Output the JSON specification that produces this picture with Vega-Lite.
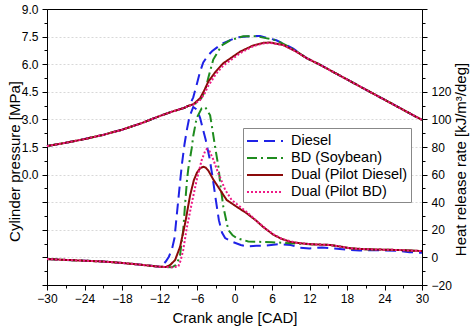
{
  "$schema": "https://vega.github.io/schema/vega-lite/v6.json",
  "width": 375,
  "height": 276,
  "autosize": {"type": "none"},
  "padding": {"left": 47, "top": 9, "right": 52, "bottom": 47},
  "config": {
    "view": {"stroke": "#000000", "strokeWidth": 1},
    "font": "Liberation Sans",
    "axis": {
      "domainColor": "#000000", "tickColor": "#000000", "labelColor": "#000000",
      "titleColor": "#000000", "labelFont": "Liberation Sans", "titleFont": "Liberation Sans",
      "labelFontSize": 12, "titleFontSize": 15, "titleFontWeight": "normal",
      "domainWidth": 1, "tickWidth": 1
    }
  },
  "datasets": {
    "pressure": [
      {"series": "Diesel", "cad": -30, "p": 1.55}, {"series": "Diesel", "cad": -27, "p": 1.73}, {"series": "Diesel", "cad": -24, "p": 1.93}, {"series": "Diesel", "cad": -21, "p": 2.16}, {"series": "Diesel", "cad": -18, "p": 2.44}, {"series": "Diesel", "cad": -15, "p": 2.78}, {"series": "Diesel", "cad": -12, "p": 3.18}, {"series": "Diesel", "cad": -10, "p": 3.42}, {"series": "Diesel", "cad": -8, "p": 3.63},
      {"series": "Diesel", "cad": -7.5, "p": 3.72}, {"series": "Diesel", "cad": -7.0, "p": 3.9}, {"series": "Diesel", "cad": -6.6, "p": 4.2}, {"series": "Diesel", "cad": -6.0, "p": 4.95}, {"series": "Diesel", "cad": -5.5, "p": 5.6}, {"series": "Diesel", "cad": -5.0, "p": 6.1}, {"series": "Diesel", "cad": -4.3, "p": 6.45}, {"series": "Diesel", "cad": -3.6, "p": 6.7}, {"series": "Diesel", "cad": -2.0, "p": 7.12}, {"series": "Diesel", "cad": 0.3, "p": 7.45}, {"series": "Diesel", "cad": 2.5, "p": 7.53}, {"series": "Diesel", "cad": 4.1, "p": 7.53}, {"series": "Diesel", "cad": 6.7, "p": 7.3}, {"series": "Diesel", "cad": 9.4, "p": 6.85}, {"series": "Diesel", "cad": 11.6, "p": 6.32},
      {"series": "Diesel", "cad": 13.5, "p": 6.0}, {"series": "Diesel", "cad": 15.3, "p": 5.67}, {"series": "Diesel", "cad": 18.5, "p": 5.08}, {"series": "Diesel", "cad": 21, "p": 4.62}, {"series": "Diesel", "cad": 24, "p": 4.07}, {"series": "Diesel", "cad": 27, "p": 3.52}, {"series": "Diesel", "cad": 30, "p": 2.97},

      {"series": "BD (Soybean)", "cad": -30, "p": 1.55}, {"series": "BD (Soybean)", "cad": -27, "p": 1.73}, {"series": "BD (Soybean)", "cad": -24, "p": 1.93}, {"series": "BD (Soybean)", "cad": -21, "p": 2.16}, {"series": "BD (Soybean)", "cad": -18, "p": 2.44}, {"series": "BD (Soybean)", "cad": -15, "p": 2.78}, {"series": "BD (Soybean)", "cad": -12, "p": 3.18}, {"series": "BD (Soybean)", "cad": -10, "p": 3.42}, {"series": "BD (Soybean)", "cad": -8, "p": 3.63},
      {"series": "BD (Soybean)", "cad": -7.5, "p": 3.72}, {"series": "BD (Soybean)", "cad": -6.8, "p": 3.8}, {"series": "BD (Soybean)", "cad": -6.0, "p": 3.9}, {"series": "BD (Soybean)", "cad": -5.3, "p": 4.15}, {"series": "BD (Soybean)", "cad": -4.7, "p": 4.55}, {"series": "BD (Soybean)", "cad": -4.2, "p": 5.25}, {"series": "BD (Soybean)", "cad": -3.4, "p": 6.25}, {"series": "BD (Soybean)", "cad": -2.05, "p": 7.02}, {"series": "BD (Soybean)", "cad": -0.7, "p": 7.3}, {"series": "BD (Soybean)", "cad": 1.4, "p": 7.52}, {"series": "BD (Soybean)", "cad": 3.5, "p": 7.52}, {"series": "BD (Soybean)", "cad": 6.7, "p": 7.3}, {"series": "BD (Soybean)", "cad": 9.4, "p": 6.82}, {"series": "BD (Soybean)", "cad": 11.6, "p": 6.32},
      {"series": "BD (Soybean)", "cad": 13.5, "p": 6.0}, {"series": "BD (Soybean)", "cad": 15.3, "p": 5.67}, {"series": "BD (Soybean)", "cad": 18.5, "p": 5.08}, {"series": "BD (Soybean)", "cad": 21, "p": 4.62}, {"series": "BD (Soybean)", "cad": 24, "p": 4.07}, {"series": "BD (Soybean)", "cad": 27, "p": 3.52}, {"series": "BD (Soybean)", "cad": 30, "p": 2.97},

      {"series": "Dual (Pilot Diesel)", "cad": -30, "p": 1.55}, {"series": "Dual (Pilot Diesel)", "cad": -27, "p": 1.73}, {"series": "Dual (Pilot Diesel)", "cad": -24, "p": 1.93}, {"series": "Dual (Pilot Diesel)", "cad": -21, "p": 2.16}, {"series": "Dual (Pilot Diesel)", "cad": -18, "p": 2.44}, {"series": "Dual (Pilot Diesel)", "cad": -15, "p": 2.78}, {"series": "Dual (Pilot Diesel)", "cad": -12, "p": 3.18}, {"series": "Dual (Pilot Diesel)", "cad": -10, "p": 3.42}, {"series": "Dual (Pilot Diesel)", "cad": -8, "p": 3.63},
      {"series": "Dual (Pilot Diesel)", "cad": -7.5, "p": 3.72}, {"series": "Dual (Pilot Diesel)", "cad": -6.6, "p": 3.82}, {"series": "Dual (Pilot Diesel)", "cad": -5.5, "p": 4.15}, {"series": "Dual (Pilot Diesel)", "cad": -4.8, "p": 4.6}, {"series": "Dual (Pilot Diesel)", "cad": -4.2, "p": 5.05}, {"series": "Dual (Pilot Diesel)", "cad": -3.0, "p": 5.6}, {"series": "Dual (Pilot Diesel)", "cad": -1.8, "p": 6.05}, {"series": "Dual (Pilot Diesel)", "cad": 0.9, "p": 6.68}, {"series": "Dual (Pilot Diesel)", "cad": 3.0, "p": 7.02}, {"series": "Dual (Pilot Diesel)", "cad": 4.6, "p": 7.16}, {"series": "Dual (Pilot Diesel)", "cad": 5.7, "p": 7.18}, {"series": "Dual (Pilot Diesel)", "cad": 7.8, "p": 7.04}, {"series": "Dual (Pilot Diesel)", "cad": 9.8, "p": 6.7}, {"series": "Dual (Pilot Diesel)", "cad": 11.6, "p": 6.32},
      {"series": "Dual (Pilot Diesel)", "cad": 13.5, "p": 6.0}, {"series": "Dual (Pilot Diesel)", "cad": 15.3, "p": 5.67}, {"series": "Dual (Pilot Diesel)", "cad": 18.5, "p": 5.08}, {"series": "Dual (Pilot Diesel)", "cad": 21, "p": 4.62}, {"series": "Dual (Pilot Diesel)", "cad": 24, "p": 4.07}, {"series": "Dual (Pilot Diesel)", "cad": 27, "p": 3.52}, {"series": "Dual (Pilot Diesel)", "cad": 30, "p": 2.97},

      {"series": "Dual (Pilot BD)", "cad": -30, "p": 1.55}, {"series": "Dual (Pilot BD)", "cad": -27, "p": 1.73}, {"series": "Dual (Pilot BD)", "cad": -24, "p": 1.93}, {"series": "Dual (Pilot BD)", "cad": -21, "p": 2.16}, {"series": "Dual (Pilot BD)", "cad": -18, "p": 2.44}, {"series": "Dual (Pilot BD)", "cad": -15, "p": 2.78}, {"series": "Dual (Pilot BD)", "cad": -12, "p": 3.18}, {"series": "Dual (Pilot BD)", "cad": -10, "p": 3.42}, {"series": "Dual (Pilot BD)", "cad": -8, "p": 3.63},
      {"series": "Dual (Pilot BD)", "cad": -7.5, "p": 3.72}, {"series": "Dual (Pilot BD)", "cad": -6.6, "p": 3.8}, {"series": "Dual (Pilot BD)", "cad": -5.5, "p": 4.05}, {"series": "Dual (Pilot BD)", "cad": -4.8, "p": 4.4}, {"series": "Dual (Pilot BD)", "cad": -4.2, "p": 4.82}, {"series": "Dual (Pilot BD)", "cad": -3.0, "p": 5.45}, {"series": "Dual (Pilot BD)", "cad": -1.8, "p": 5.92}, {"series": "Dual (Pilot BD)", "cad": 0.9, "p": 6.6}, {"series": "Dual (Pilot BD)", "cad": 3.0, "p": 6.98}, {"series": "Dual (Pilot BD)", "cad": 4.6, "p": 7.13}, {"series": "Dual (Pilot BD)", "cad": 5.7, "p": 7.16}, {"series": "Dual (Pilot BD)", "cad": 7.8, "p": 7.04}, {"series": "Dual (Pilot BD)", "cad": 9.8, "p": 6.7}, {"series": "Dual (Pilot BD)", "cad": 11.6, "p": 6.32},
      {"series": "Dual (Pilot BD)", "cad": 13.5, "p": 6.0}, {"series": "Dual (Pilot BD)", "cad": 15.3, "p": 5.67}, {"series": "Dual (Pilot BD)", "cad": 18.5, "p": 5.08}, {"series": "Dual (Pilot BD)", "cad": 21, "p": 4.62}, {"series": "Dual (Pilot BD)", "cad": 24, "p": 4.07}, {"series": "Dual (Pilot BD)", "cad": 27, "p": 3.52}, {"series": "Dual (Pilot BD)", "cad": 30, "p": 2.97}
    ],
    "hrr": [
      {"series": "Diesel", "cad": -30, "h": -1.2}, {"series": "Diesel", "cad": -27, "h": -1.8}, {"series": "Diesel", "cad": -24, "h": -2.4}, {"series": "Diesel", "cad": -21, "h": -3.0}, {"series": "Diesel", "cad": -18, "h": -4.0}, {"series": "Diesel", "cad": -15, "h": -5.3}, {"series": "Diesel", "cad": -13, "h": -6.3}, {"series": "Diesel", "cad": -12, "h": -6.7},
      {"series": "Diesel", "cad": -11.5, "h": -5.5}, {"series": "Diesel", "cad": -11, "h": -3}, {"series": "Diesel", "cad": -10.5, "h": 0.5}, {"series": "Diesel", "cad": -10, "h": 6}, {"series": "Diesel", "cad": -9.6, "h": 14}, {"series": "Diesel", "cad": -9.25, "h": 30}, {"series": "Diesel", "cad": -8.7, "h": 55}, {"series": "Diesel", "cad": -8.4, "h": 68}, {"series": "Diesel", "cad": -8.0, "h": 82}, {"series": "Diesel", "cad": -7.6, "h": 93}, {"series": "Diesel", "cad": -7.2, "h": 102}, {"series": "Diesel", "cad": -6.6, "h": 109}, {"series": "Diesel", "cad": -6.0, "h": 107}, {"series": "Diesel", "cad": -5.5, "h": 101}, {"series": "Diesel", "cad": -5.0, "h": 92}, {"series": "Diesel", "cad": -4.6, "h": 85}, {"series": "Diesel", "cad": -4.0, "h": 72}, {"series": "Diesel", "cad": -3.5, "h": 58}, {"series": "Diesel", "cad": -3.0, "h": 42}, {"series": "Diesel", "cad": -2.5, "h": 27}, {"series": "Diesel", "cad": -2.0, "h": 18}, {"series": "Diesel", "cad": -1.5, "h": 14}, {"series": "Diesel", "cad": -0.5, "h": 11.5}, {"series": "Diesel", "cad": 1.0, "h": 9}, {"series": "Diesel", "cad": 2.0, "h": 8}, {"series": "Diesel", "cad": 3.5, "h": 8.5}, {"series": "Diesel", "cad": 5, "h": 8.5}, {"series": "Diesel", "cad": 7, "h": 9.5}, {"series": "Diesel", "cad": 9, "h": 9}, {"series": "Diesel", "cad": 10.5, "h": 7}, {"series": "Diesel", "cad": 12, "h": 6.5}, {"series": "Diesel", "cad": 14, "h": 7.2}, {"series": "Diesel", "cad": 16, "h": 6.5}, {"series": "Diesel", "cad": 18, "h": 5.5}, {"series": "Diesel", "cad": 20, "h": 5}, {"series": "Diesel", "cad": 23, "h": 5.2}, {"series": "Diesel", "cad": 26, "h": 4.8}, {"series": "Diesel", "cad": 28, "h": 3.8}, {"series": "Diesel", "cad": 30, "h": 3.3},

      {"series": "BD (Soybean)", "cad": -30, "h": -1.2}, {"series": "BD (Soybean)", "cad": -27, "h": -1.8}, {"series": "BD (Soybean)", "cad": -24, "h": -2.4}, {"series": "BD (Soybean)", "cad": -21, "h": -3.0}, {"series": "BD (Soybean)", "cad": -18, "h": -4.0}, {"series": "BD (Soybean)", "cad": -15, "h": -5.3}, {"series": "BD (Soybean)", "cad": -13, "h": -6.3}, {"series": "BD (Soybean)", "cad": -12, "h": -6.7},
      {"series": "BD (Soybean)", "cad": -11, "h": -7}, {"series": "BD (Soybean)", "cad": -10, "h": -7.2}, {"series": "BD (Soybean)", "cad": -9.4, "h": -5.5}, {"series": "BD (Soybean)", "cad": -9.0, "h": -2}, {"series": "BD (Soybean)", "cad": -8.7, "h": 2}, {"series": "BD (Soybean)", "cad": -8.2, "h": 20}, {"series": "BD (Soybean)", "cad": -7.9, "h": 39}, {"series": "BD (Soybean)", "cad": -7.6, "h": 56}, {"series": "BD (Soybean)", "cad": -7.4, "h": 64}, {"series": "BD (Soybean)", "cad": -6.85, "h": 79}, {"series": "BD (Soybean)", "cad": -6.6, "h": 88}, {"series": "BD (Soybean)", "cad": -6.05, "h": 101}, {"series": "BD (Soybean)", "cad": -5.25, "h": 108}, {"series": "BD (Soybean)", "cad": -4.7, "h": 109}, {"series": "BD (Soybean)", "cad": -3.9, "h": 103}, {"series": "BD (Soybean)", "cad": -3.65, "h": 96}, {"series": "BD (Soybean)", "cad": -3.1, "h": 80}, {"series": "BD (Soybean)", "cad": -2.55, "h": 65}, {"series": "BD (Soybean)", "cad": -2.3, "h": 54}, {"series": "BD (Soybean)", "cad": -1.8, "h": 37}, {"series": "BD (Soybean)", "cad": -1.0, "h": 20}, {"series": "BD (Soybean)", "cad": -0.3, "h": 16}, {"series": "BD (Soybean)", "cad": 0.35, "h": 14}, {"series": "BD (Soybean)", "cad": 2.2, "h": 11.5}, {"series": "BD (Soybean)", "cad": 3.8, "h": 11.3}, {"series": "BD (Soybean)", "cad": 6, "h": 11}, {"series": "BD (Soybean)", "cad": 8, "h": 10.5}, {"series": "BD (Soybean)", "cad": 10, "h": 10}, {"series": "BD (Soybean)", "cad": 12.1, "h": 9.6},
      {"series": "BD (Soybean)", "cad": 13.5, "h": 9.3}, {"series": "BD (Soybean)", "cad": 15.3, "h": 9}, {"series": "BD (Soybean)", "cad": 17, "h": 7.8}, {"series": "BD (Soybean)", "cad": 18.5, "h": 6.6}, {"series": "BD (Soybean)", "cad": 20.6, "h": 6}, {"series": "BD (Soybean)", "cad": 23, "h": 5.7}, {"series": "BD (Soybean)", "cad": 26, "h": 5.4}, {"series": "BD (Soybean)", "cad": 28, "h": 5.0}, {"series": "BD (Soybean)", "cad": 30, "h": 4.6},

      {"series": "Dual (Pilot Diesel)", "cad": -30, "h": -1.2}, {"series": "Dual (Pilot Diesel)", "cad": -27, "h": -1.8}, {"series": "Dual (Pilot Diesel)", "cad": -24, "h": -2.4}, {"series": "Dual (Pilot Diesel)", "cad": -21, "h": -3.0}, {"series": "Dual (Pilot Diesel)", "cad": -18, "h": -4.0}, {"series": "Dual (Pilot Diesel)", "cad": -15, "h": -5.3}, {"series": "Dual (Pilot Diesel)", "cad": -13, "h": -6.3}, {"series": "Dual (Pilot Diesel)", "cad": -12, "h": -6.7},
      {"series": "Dual (Pilot Diesel)", "cad": -11, "h": -7}, {"series": "Dual (Pilot Diesel)", "cad": -10.3, "h": -5.5}, {"series": "Dual (Pilot Diesel)", "cad": -9.5, "h": -1.9}, {"series": "Dual (Pilot Diesel)", "cad": -8.7, "h": 7.8}, {"series": "Dual (Pilot Diesel)", "cad": -7.9, "h": 24.7}, {"series": "Dual (Pilot Diesel)", "cad": -7.1, "h": 45}, {"series": "Dual (Pilot Diesel)", "cad": -6.5, "h": 56}, {"series": "Dual (Pilot Diesel)", "cad": -6.0, "h": 61.5}, {"series": "Dual (Pilot Diesel)", "cad": -5.5, "h": 64.5}, {"series": "Dual (Pilot Diesel)", "cad": -5.0, "h": 65.7}, {"series": "Dual (Pilot Diesel)", "cad": -4.6, "h": 65}, {"series": "Dual (Pilot Diesel)", "cad": -4.2, "h": 63}, {"series": "Dual (Pilot Diesel)", "cad": -3.4, "h": 56.5}, {"series": "Dual (Pilot Diesel)", "cad": -2.6, "h": 51}, {"series": "Dual (Pilot Diesel)", "cad": -1.25, "h": 41.6}, {"series": "Dual (Pilot Diesel)", "cad": 0.35, "h": 36.7}, {"series": "Dual (Pilot Diesel)", "cad": 1.95, "h": 32}, {"series": "Dual (Pilot Diesel)", "cad": 3.5, "h": 26.5}, {"series": "Dual (Pilot Diesel)", "cad": 4.6, "h": 22}, {"series": "Dual (Pilot Diesel)", "cad": 6.2, "h": 16.5}, {"series": "Dual (Pilot Diesel)", "cad": 7.5, "h": 13.5}, {"series": "Dual (Pilot Diesel)", "cad": 8.9, "h": 11.3}, {"series": "Dual (Pilot Diesel)", "cad": 10.5, "h": 10.3}, {"series": "Dual (Pilot Diesel)", "cad": 12.1, "h": 9.6},
      {"series": "Dual (Pilot Diesel)", "cad": 13.5, "h": 9.3}, {"series": "Dual (Pilot Diesel)", "cad": 15.3, "h": 9}, {"series": "Dual (Pilot Diesel)", "cad": 17, "h": 7.8}, {"series": "Dual (Pilot Diesel)", "cad": 18.5, "h": 6.6}, {"series": "Dual (Pilot Diesel)", "cad": 20.6, "h": 6}, {"series": "Dual (Pilot Diesel)", "cad": 23, "h": 5.7}, {"series": "Dual (Pilot Diesel)", "cad": 26, "h": 5.4}, {"series": "Dual (Pilot Diesel)", "cad": 28, "h": 5.0}, {"series": "Dual (Pilot Diesel)", "cad": 30, "h": 4.6},

      {"series": "Dual (Pilot BD)", "cad": -30, "h": -1.2}, {"series": "Dual (Pilot BD)", "cad": -27, "h": -1.8}, {"series": "Dual (Pilot BD)", "cad": -24, "h": -2.4}, {"series": "Dual (Pilot BD)", "cad": -21, "h": -3.0}, {"series": "Dual (Pilot BD)", "cad": -18, "h": -4.0}, {"series": "Dual (Pilot BD)", "cad": -15, "h": -5.3}, {"series": "Dual (Pilot BD)", "cad": -13, "h": -6.3}, {"series": "Dual (Pilot BD)", "cad": -12, "h": -6.7},
      {"series": "Dual (Pilot BD)", "cad": -11, "h": -7}, {"series": "Dual (Pilot BD)", "cad": -10, "h": -7.2}, {"series": "Dual (Pilot BD)", "cad": -9, "h": -6.7}, {"series": "Dual (Pilot BD)", "cad": -8.6, "h": -2}, {"series": "Dual (Pilot BD)", "cad": -8.2, "h": 5.4}, {"series": "Dual (Pilot BD)", "cad": -7.65, "h": 21}, {"series": "Dual (Pilot BD)", "cad": -6.85, "h": 39}, {"series": "Dual (Pilot BD)", "cad": -6.05, "h": 56}, {"series": "Dual (Pilot BD)", "cad": -5.25, "h": 70.6}, {"series": "Dual (Pilot BD)", "cad": -4.7, "h": 77}, {"series": "Dual (Pilot BD)", "cad": -4.45, "h": 78.5}, {"series": "Dual (Pilot BD)", "cad": -4.0, "h": 77}, {"series": "Dual (Pilot BD)", "cad": -3.4, "h": 71}, {"series": "Dual (Pilot BD)", "cad": -2.6, "h": 61}, {"series": "Dual (Pilot BD)", "cad": -2.3, "h": 58}, {"series": "Dual (Pilot BD)", "cad": -1.5, "h": 49}, {"series": "Dual (Pilot BD)", "cad": -0.45, "h": 41.6}, {"series": "Dual (Pilot BD)", "cad": 0.9, "h": 36.7}, {"series": "Dual (Pilot BD)", "cad": 2.2, "h": 32}, {"series": "Dual (Pilot BD)", "cad": 3.5, "h": 26.5}, {"series": "Dual (Pilot BD)", "cad": 5.2, "h": 20}, {"series": "Dual (Pilot BD)", "cad": 6.5, "h": 16}, {"series": "Dual (Pilot BD)", "cad": 7.8, "h": 13}, {"series": "Dual (Pilot BD)", "cad": 10, "h": 10.5}, {"series": "Dual (Pilot BD)", "cad": 12.1, "h": 9.6},
      {"series": "Dual (Pilot BD)", "cad": 13.5, "h": 9.3}, {"series": "Dual (Pilot BD)", "cad": 15.3, "h": 9}, {"series": "Dual (Pilot BD)", "cad": 17, "h": 7.8}, {"series": "Dual (Pilot BD)", "cad": 18.5, "h": 6.6}, {"series": "Dual (Pilot BD)", "cad": 20.6, "h": 6}, {"series": "Dual (Pilot BD)", "cad": 23, "h": 5.7}, {"series": "Dual (Pilot BD)", "cad": 26, "h": 5.4}, {"series": "Dual (Pilot BD)", "cad": 28, "h": 5.0}, {"series": "Dual (Pilot BD)", "cad": 30, "h": 4.6}
    ]
  },
  "encoding": {
    "x": {
      "field": "cad", "type": "quantitative",
      "scale": {"domain": [-30, 30], "nice": false, "zero": false},
      "axis": {
        "title": "Crank angle [CAD]",
        "values": [-30, -27, -24, -21, -18, -15, -12, -9, -6, -3, 0, 3, 6, 9, 12, 15, 18, 21, 24, 27, 30],
        "labelExpr": "datum.value % 6 == 0 ? format(datum.value, 'd') : ''",
        "tickSize": {"condition": {"test": "datum.value % 6 == 0", "value": 5}, "value": 3},
        "labelPadding": 3, "titlePadding": 6, "grid": false, "labelFlush": false, "labelOverlap": false
      }
    },
    "color": {
      "field": "series", "type": "nominal",
      "scale": {"domain": ["Diesel", "BD (Soybean)", "Dual (Pilot Diesel)", "Dual (Pilot BD)"], "range": ["#1f22e6", "#1e8c1e", "#8b0a0a", "#ee1a86"]},
      "legend": {
        "orient": "none", "legendX": 196, "legendY": 119, "title": null,
        "symbolType": "M-2,0H2", "symbolSize": 324, "symbolStrokeWidth": 2, "symbolOffset": 9,
        "labelFontSize": 14.5, "labelFont": "Liberation Sans", "labelColor": "#000000", "labelOffset": 16, "labelLimit": 300,
        "padding": 3, "rowPadding": 0, "strokeColor": "#888888", "fillColor": "#ffffff"
      }
    },
    "strokeDash": {
      "field": "series", "type": "nominal",
      "scale": {"domain": ["Diesel", "BD (Soybean)", "Dual (Pilot Diesel)", "Dual (Pilot BD)"], "range": [[11, 6], [10, 4, 2, 4], [1, 0], [2, 2]]},
      "legend": null
    }
  },
  "layer": [
    {
      "data": {"name": "pressure"},
      "mark": {"type": "line", "strokeWidth": 2},
      "encoding": {
        "y": {
          "field": "p", "type": "quantitative",
          "scale": {"domain": [-6, 9], "nice": false, "zero": false},
          "axis": {
            "orient": "left", "title": "Cylinder pressure [MPa]",
            "values": [-6, -5.25, -4.5, -3.75, -3, -2.25, -1.5, -0.75, 0, 0.75, 1.5, 2.25, 3, 3.75, 4.5, 5.25, 6, 6.75, 7.5, 8.25, 9],
            "labelExpr": "(datum.value >= 0 && abs(datum.value / 1.5 - round(datum.value / 1.5)) < 0.01) ? format(datum.value, '.1f') : ''",
            "tickSize": {"condition": {"test": "abs(datum.value / 1.5 - round(datum.value / 1.5)) < 0.01", "value": 5}, "value": 3},
            "grid": true, "gridColor": "#d8d8d8", "gridDash": [2, 2],
            "gridOpacity": {"condition": {"test": "abs(datum.value / 1.5 - round(datum.value / 1.5)) < 0.01 && datum.value > -6 && datum.value < 9", "value": 1}, "value": 0},
            "labelPadding": 4, "labelOverlap": false, "labelFlush": false,
            "titleX": -33, "titleY": 152, "titleBaseline": "middle", "titleAngle": 270
          }
        }
      }
    },
    {
      "data": {"name": "hrr"},
      "mark": {"type": "line", "strokeWidth": 2},
      "encoding": {
        "y": {
          "field": "h", "type": "quantitative",
          "scale": {"domain": [-20, 180], "nice": false, "zero": false},
          "axis": {
            "orient": "right", "title": "Heat release rate [kJ/m³/deg]",
            "values": [-20, -10, 0, 10, 20, 30, 40, 50, 60, 70, 80, 90, 100, 110, 120, 130, 140, 150, 160, 170, 180],
            "labelExpr": "(datum.value <= 120 && datum.value % 20 == 0) ? format(datum.value, 'd') : ''",
            "tickSize": {"condition": {"test": "datum.value % 20 == 0", "value": 5}, "value": 3},
            "grid": false, "labelPadding": 4, "labelOverlap": false, "labelFlush": false,
            "titleX": 38, "titleY": 150, "titleBaseline": "middle", "titleAngle": 270
          }
        }
      }
    }
  ],
  "resolve": {"scale": {"y": "independent"}}
}
